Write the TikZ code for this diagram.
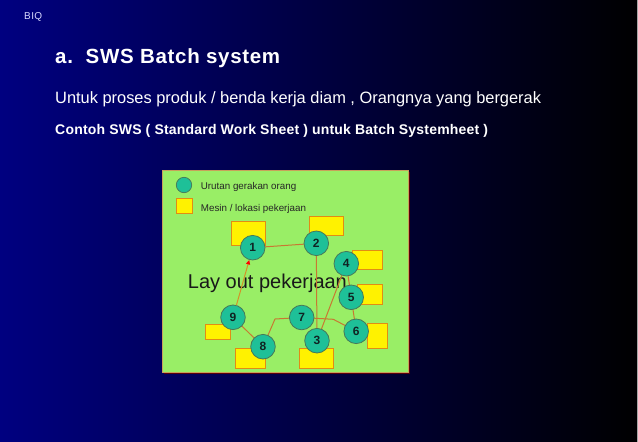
\documentclass[tikz,border=0pt]{standalone}
\usepackage{fontspec}
\setmainfont{Liberation Sans}
\usetikzlibrary{arrows.meta}
\definecolor{navybg}{RGB}{0,0,128}
\definecolor{boxgreen}{RGB}{153,238,102}
\definecolor{boxedge}{RGB}{200,160,90}
\definecolor{shadowred}{RGB}{90,0,10}
\definecolor{teal1}{RGB}{30,192,152}
\definecolor{tealedge}{RGB}{70,120,90}
\definecolor{machedge}{RGB}{225,140,20}
\definecolor{pathcol}{RGB}{200,120,50}
\definecolor{numcol}{RGB}{15,35,35}
\begin{document}
\begin{tikzpicture}[x=1pt,y=-1pt,
  person/.style={circle,draw=tealedge,line width=0.8pt,fill=teal1,minimum size=24.6pt,inner sep=0pt,
    font=\fontsize{12}{14}\selectfont\bfseries,text=numcol},
  machine/.style={draw=machedge,line width=0.6pt,fill=yellow},
  walk/.style={draw=pathcol,line width=1pt},
  slidetext/.style={anchor=base west,inner sep=0pt,text=white},
  legendtext/.style={anchor=west,inner sep=0pt,text=black!85,font=\fontsize{9.8}{11}\selectfont}]
\useasboundingbox (0,0) rectangle (638,442);
\shade[left color=navybg,right color=black] (0,0) rectangle (638,442);
\fill[gray!70] (637,0) rectangle (638,442);
% texts
\node[slidetext,text=white!85!blue,font=\fontsize{10}{12}\selectfont\addfontfeatures{LetterSpace=4}] (biq) at (24,19.3) {BIQ};
\node[slidetext,font=\fontsize{20.5}{24}\selectfont\bfseries\addfontfeatures{LetterSpace=3.3}] (title) at (55,63.3) {a.\ \ SWS Batch system};
\node[slidetext,font=\fontsize{16.4}{19}\selectfont] (sub) at (55,103.3) {Untuk proses produk / benda kerja diam , Orangnya yang bergerak};
\node[slidetext,font=\fontsize{14}{17}\selectfont\bfseries\addfontfeatures{LetterSpace=1.5}] (contoh) at (55,134.3) {Contoh SWS ( Standard Work Sheet ) untuk Batch Systemheet )};
% green box
\fill[shadowred] (164,172) rectangle (410,374);
\fill[boxgreen] (162,170) rectangle (408,372);
\draw[boxedge,line width=0.5pt] (162,170) rectangle (408,372);
% legend
\node[circle,draw=tealedge,line width=0.7pt,fill=teal1,minimum size=15.4pt,inner sep=0pt] (lc) at (184,185) {};
\draw[machine] (176,198.3) rectangle (192.3,213.3);
\node[legendtext] (l1) at (200.7,187.3) {Urutan gerakan orang};
\node[legendtext] (l2) at (200.7,209.3) {Mesin / lokasi pekerjaan};
% machines
\draw[machine] (231,221) rectangle (265,245);
\draw[machine] (309.3,216) rectangle (343.3,235.7);
\draw[machine] (352.7,250.3) rectangle (382.7,269.7);
\draw[machine] (357.7,284.3) rectangle (382.7,304.3);
\draw[machine] (367.7,323.7) rectangle (387.7,348.3);
\draw[machine] (299.3,348.3) rectangle (333.3,368.3);
\draw[machine] (235.3,348.3) rectangle (265.3,368.3);
\draw[machine] (205.7,324) rectangle (230.7,339);
% layout label
\node[anchor=base west,inner sep=0pt,text=black!90,font=\fontsize{20}{24}\selectfont] (lay) at (187.7,288.3) {Lay out pekerjaan};
% person positions
\coordinate (p1) at (252.7,247.7);
\coordinate (p2) at (316.3,243.3);
\coordinate (p3) at (317,340.7);
\coordinate (p4) at (346.3,263.7);
\coordinate (p5) at (351.2,297.3);
\coordinate (p6) at (356.2,331.3);
\coordinate (p7) at (301.7,317.5);
\coordinate (p8) at (263,346.7);
\coordinate (p9) at (233,317.3);
\coordinate (c76) at (333.3,319.3);
\coordinate (c78) at (275,319);
% walking path (drawn first, people on top)
\path[walk] (p1) -- (p2);
\path[walk] (p2) -- (p3);
\path[walk] (p3) -- (p4);
\path[walk] (p4) -- (p5);
\path[walk] (p5) -- (p6);
\path[walk] (p6) -- (c76) -- (p7);
\path[walk] (p7) -- (c78) -- (p8);
\path[walk] (p8) -- (p9);
% people
\node[person] (n1) at (p1) {1};
\node[person] (n2) at (p2) {2};
\node[person] (n3) at (p3) {3};
\node[person] (n4) at (p4) {4};
\node[person] (n5) at (p5) {5};
\node[person] (n6) at (p6) {6};
\node[person] (n7) at (p7) {7};
\node[person] (n8) at (p8) {8};
\node[person] (n9) at (p9) {9};
\path[walk,draw=pathcol!80!yellow,-{Triangle[red,length=4.5pt,width=4pt]}] (n9) -- (n1);
\end{tikzpicture}
\end{document}
